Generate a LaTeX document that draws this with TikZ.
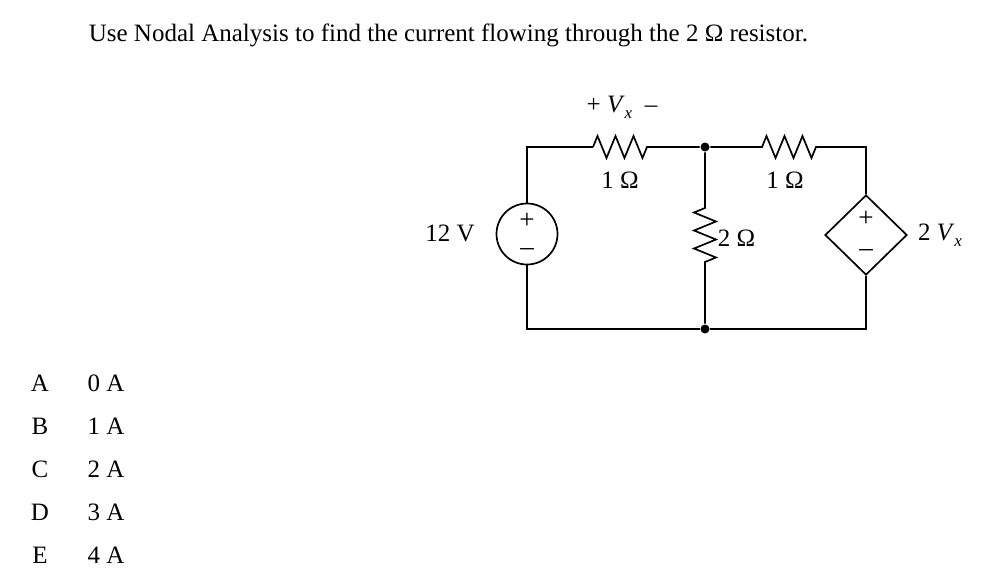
\documentclass[tikz,border=0pt]{standalone}
\usepackage{fontspec}
\setmainfont{Liberation Serif}
\usetikzlibrary{shapes.geometric}
\newcommand{\Vx}{\textit{V}\raisebox{-6pt}{\fontsize{17}{17}\selectfont\textit{x}}}
\begin{document}
\begin{tikzpicture}[x=1pt,y=-1pt,line width=1.7pt,
  txt/.style={font=\fontsize{25}{28}\selectfont,inner sep=0pt},
  sgn/.style={font=\fontsize{27}{27}\selectfont,inner sep=0pt},
  dotn/.style={circle,fill,inner sep=0pt,minimum size=9pt}]
\useasboundingbox (0,0) rectangle (992,581);
\node[txt,anchor=west] (title) at (88,35) {Use Nodal Analysis to find the current flowing through the 2 Ω resistor.};
% nodes
\coordinate (tl) at (527,147); \coordinate (bl) at (527,329);
\node[dotn] (tm) at (705,147) {}; \node[dotn] (bm) at (705,329) {};
\coordinate (tr) at (866,147); \coordinate (br) at (866,329);
\node[circle,draw,minimum size=61pt,inner sep=0pt] (vs) at (527,234) {};
\node[diamond,draw,minimum width=82pt,minimum height=80pt,inner sep=0pt] (ds) at (866,235) {};
% wires
\draw (vs.north) -- (tl) -- (593,147);
\draw (593,147) -- ++(4.5,-11) -- ++(9,22) -- ++(9,-22) -- ++(9,22) -- ++(9,-22) -- ++(9,22) -- ++(4.5,-11) -- (tm);
\draw (tm) -- (762,147) -- ++(4.5,-11) -- ++(9,22) -- ++(9,-22) -- ++(9,22) -- ++(9,-22) -- ++(9,22) -- ++(4.5,-11) -- (tr) -- (ds.north);
\draw (tm) -- (705,208) -- ++(-11,4.5) -- ++(22,9) -- ++(-22,9) -- ++(22,9) -- ++(-22,9) -- ++(22,9) -- ++(-11,4.5) -- (bm);
\draw (vs.south) -- (bl) -- (bm) -- (br) -- (ds.south);
% signs
\node[sgn] at (527,221) {+}; \node[sgn] at (527,252) {–};
\node[sgn] at (866,219) {+}; \node[sgn] at (866,253) {–};
% labels
\node[txt] (lvx) at (622,107) {+ \Vx\ \ –};
\node[txt] (r1) at (620,180) {1 Ω};
\node[txt] (r2) at (785,180) {1 Ω};
\node[txt,anchor=west] (r3) at (717,238) {2 Ω};
\node[txt] (v12) at (450,233) {12 V};
\node[txt] (v2) at (940,235) {2 \Vx};
% answers
\foreach \l/\a [count=\i from 0] in {A/0,B/1,C/2,D/3,E/4}{
  \node[txt] (L\l) at (40,383+43*\i) {\l};
  \node[txt] (A\l) at (106,383+43*\i) {\a\ A};
}
\end{tikzpicture}
\end{document}
